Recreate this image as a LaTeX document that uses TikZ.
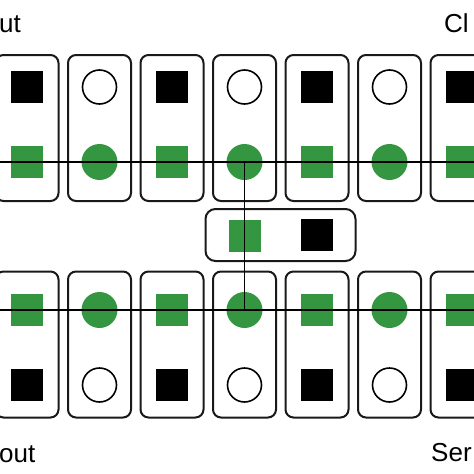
\documentclass[tikz,border=0pt]{standalone}
\usepackage{fontspec}
\setmainfont{Liberation Sans}
\definecolor{gr}{RGB}{52,150,64}
\begin{document}
\begin{tikzpicture}[x=1pt,y=-1pt,
  cell/.style={draw=black!90, line width=2pt, rounded corners=8pt, minimum width=63pt, minimum height=146pt, inner sep=0pt},
  mid/.style={draw=black!90, line width=2pt, rounded corners=10pt, minimum width=150pt, minimum height=52pt, inner sep=0pt},
  ksq/.style={fill=black, minimum size=32pt, inner sep=0pt},
  kci/.style={circle, draw=black, line width=1.6pt, minimum size=34pt, inner sep=0pt},
  gsq/.style={fill=gr, minimum size=32pt, inner sep=0pt},
  gci/.style={circle, fill=gr, minimum size=36pt, inner sep=0pt},
  link/.style={line width=1.6pt},
  lab/.style={font=\fontsize{26}{26}\selectfont, inner sep=0pt}]
\useasboundingbox (0,0) rectangle (474,474);
\clip (0,0) rectangle (474,474);
\foreach \i/\x/\ks/\gs in {0/27/ksq/gsq,1/99.5/kci/gci,2/172/ksq/gsq,3/244.5/kci/gci,4/317/ksq/gsq,5/389.5/kci/gci,6/462/ksq/gsq}{
  \node[cell] (tc\i) at (\x,128) {};
  \node[\ks] (tk\i) at (\x,87) {};
  \node[\gs] (tg\i) at (\x,162) {};
  \node[cell] (bc\i) at (\x,344.5) {};
  \node[\gs] (bg\i) at (\x,310) {};
  \node[\ks] (bk\i) at (\x,385) {};
}
\node[mid] (mb) at (280.5,235) {};
\node[gsq] (mg) at (244.5,236) {};
\node[ksq] (mk) at (316.5,235) {};
\coordinate (tl) at (0,162);
\coordinate (tr) at (474,162);
\coordinate (bl) at (0,310);
\coordinate (br) at (474,310);
\draw[link] (tl) -- (tg0.center);
\draw[link] (bl) -- (bg0.center);
\foreach \i [evaluate=\i as \j using int(\i+1)] in {0,...,5}{
  \draw[link] (tg\i.center) -- (tg\j.center);
  \draw[link] (bg\i.center) -- (bg\j.center);
}
\draw[link] (tg6.center) -- (tr);
\draw[link] (bg6.center) -- (br);
\draw[link] (tg3.center) -- (mg.center) -- (bg3.center);
\node[lab, anchor=base west] (t1) at (-1,32) {ut};
\node[lab, anchor=base west] (t2) at (444,32) {Cl};
\node[lab, anchor=base west] (t3) at (-1,462) {out};
\node[lab, anchor=base west] (t4) at (431,461) {Ser};
\end{tikzpicture}
\end{document}
